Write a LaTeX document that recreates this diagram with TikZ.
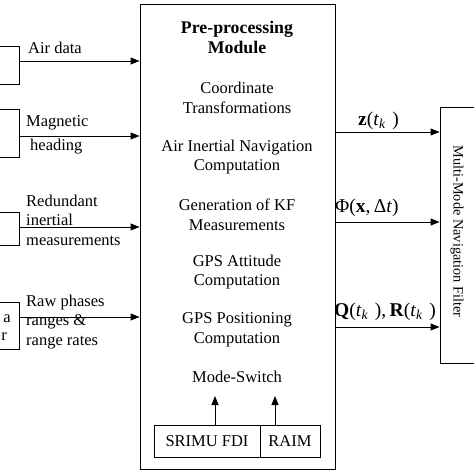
\documentclass[tikz,border=0pt]{standalone}
\usepackage{fontspec}
\setmainfont{Liberation Serif}
\usetikzlibrary{arrows.meta}
\begin{document}
\begin{tikzpicture}[x=1pt,y=-1pt,
  every node/.style={font=\fontsize{16.5}{19.5}\selectfont, inner sep=0pt},
  box/.style={draw, line width=0.9pt},
  lbl/.style={align=left, anchor=west},
  ctr/.style={align=center},
  mlbl/.style={anchor=west, font=\fontsize{19.5}{22}\selectfont},
  conn/.style={line width=0.9pt, -{Triangle[length=9pt,width=7pt]}}]
\useasboundingbox (0,0) rectangle (474,474);
\clip (0,0) rectangle (474,474);
% left source boxes (cut at the edge)
\node[box, minimum width=39pt, minimum height=38pt] (s1) at (0,65) {};
\node[box, minimum width=39pt, minimum height=48pt] (s2) at (0,133) {};
\node[box, minimum width=39pt, minimum height=33pt] (s3) at (0,228.5) {};
\node[box, minimum width=39pt, minimum height=47pt] (s4) at (0,325.5) {};
\node[anchor=east] (s4a) at (11,319) {a};
\node[anchor=east] (s4b) at (7,337) {r};
% main module
\node[box, minimum width=195pt, minimum height=465pt] (main) at (237.5,236.5) {};
\node[ctr, font=\fontsize{17.8}{20}\selectfont\bfseries] (title) at (237,37) {Pre-processing\\Module};
\node[ctr] (t1) at (237,98) {Coordinate\\Transformations};
\node[ctr] (t2) at (237,157) {Air Inertial Navigation\\Computation};
\node[ctr] (t3) at (237,215) {Generation of KF\\Measurements};
\node[ctr] (t4) at (237,272) {GPS Attitude\\Computation};
\node[ctr] (t5) at (237,330) {GPS Positioning\\Computation};
\node[ctr] (t6) at (237,377) {Mode-Switch};
\node[box, minimum width=106pt, minimum height=32pt] (fdi) at (207,441) {SRIMU FDI};
\node[box, minimum width=60pt, minimum height=32pt] (raim) at (290,441) {RAIM};
\draw[conn] (fdi.north -| 215,0) -- (215,396);
\draw[conn] (raim.north -| 275,0) -- (275,396);
% filter
\node[box, minimum width=60pt, minimum height=256pt] (filt) at (470,235) {};
\node[rotate=-90, font=\fontsize{14.3}{17}\selectfont] (ftxt) at (457,231.5) {Multi-Mode Navigation Filter};
% input arrows
\draw[conn] (s1.east |- 0,61) -- (main.west |- 0,61);
\draw[conn] (s2.east |- 0,136) -- (main.west |- 0,136);
\draw[conn] (s3.east |- 0,227) -- (main.west |- 0,227);
\draw[conn] (s4.east |- 0,317) -- (main.west |- 0,317);
\node[lbl] (l1) at (28,48) {Air data};
\node[lbl] (l2a) at (26,123) {Magnetic};
\node[lbl] (l2b) at (30,147) {heading};
\node[lbl] (l3) at (26,220) {Redundant\\inertial\\measurements};
\node[lbl] (l4) at (26,322) {Raw phases\\ranges \&\\range rates};
% output arrows
\draw[conn] (main.east |- 0,132) -- (filt.west |- 0,132);
\draw[conn] (main.east |- 0,222) -- (filt.west |- 0,222);
\draw[conn] (main.east |- 0,327) -- (filt.west |- 0,327);
\node[mlbl] (o1) at (358,121) {\textbf{z}(\textit{t}\textsubscript{\textit{k}}\,\,)};
\node[mlbl] (o2) at (335,208) {Φ(\textbf{x},\,Δ\textit{t})};
\node[mlbl] (o3) at (334,312) {\textbf{Q}(\textit{t}\textsubscript{\textit{k}}\,\,),\,\textbf{R}(\textit{t}\textsubscript{\textit{k}}\,\,)};
\end{tikzpicture}
\end{document}
